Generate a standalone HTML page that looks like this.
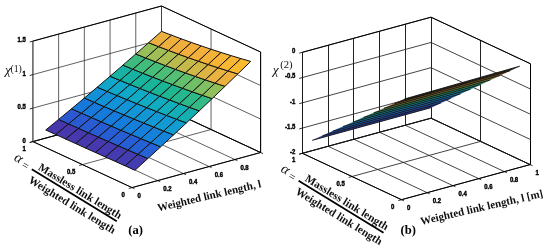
<!DOCTYPE html>
<html><head><meta charset="utf-8"><style>
html,body{margin:0;padding:0;background:#fff;width:550px;height:248px;overflow:hidden}
svg{display:block}
.tk{font-family:"Liberation Sans",sans-serif;font-weight:bold;font-size:6.8px;fill:#000;stroke:#000;stroke-width:0.42px}
.lb{font-family:"Liberation Serif",serif;font-weight:bold;font-size:11.2px;fill:#111}
.al{font-family:"Liberation Serif",serif;font-size:11.5px;fill:#111}
.al2{font-family:"Liberation Serif",serif;font-size:14.5px;font-style:italic;fill:#111}
.chi{font-family:"Liberation Serif",serif;font-size:13.5px;font-style:italic;fill:#111}
.sup{font-family:"Liberation Serif",serif;font-size:9.8px;fill:#111}
.cap{font-family:"Liberation Serif",serif;font-weight:bold;font-size:12.6px;fill:#000}
</style></head><body>
<svg width="550" height="248" viewBox="0 0 550 248">
<line x1="32.9" y1="141.6" x2="32.9" y2="41.1" stroke="#383838" stroke-width="0.8"/>
<line x1="58.62" y1="134.58" x2="58.62" y2="34.08" stroke="#383838" stroke-width="0.8"/>
<line x1="84.34" y1="127.56" x2="84.34" y2="27.06" stroke="#383838" stroke-width="0.8"/>
<line x1="110.06" y1="120.54" x2="110.06" y2="20.04" stroke="#383838" stroke-width="0.8"/>
<line x1="135.78" y1="113.52" x2="135.78" y2="13.02" stroke="#383838" stroke-width="0.8"/>
<line x1="161.5" y1="106.5" x2="161.5" y2="6" stroke="#383838" stroke-width="0.8"/>
<line x1="32.9" y1="141.6" x2="161.5" y2="106.5" stroke="#383838" stroke-width="0.8"/>
<line x1="32.9" y1="108.1" x2="161.5" y2="73" stroke="#383838" stroke-width="0.8"/>
<line x1="32.9" y1="74.6" x2="161.5" y2="39.5" stroke="#383838" stroke-width="0.8"/>
<line x1="32.9" y1="41.1" x2="161.5" y2="6" stroke="#383838" stroke-width="0.8"/>
<line x1="260.6" y1="152.5" x2="260.6" y2="52" stroke="#383838" stroke-width="0.8"/>
<line x1="211.05" y1="129.5" x2="211.05" y2="29" stroke="#383838" stroke-width="0.8"/>
<line x1="161.5" y1="106.5" x2="161.5" y2="6" stroke="#383838" stroke-width="0.8"/>
<line x1="260.6" y1="152.5" x2="161.5" y2="106.5" stroke="#383838" stroke-width="0.8"/>
<line x1="260.6" y1="119" x2="161.5" y2="73" stroke="#383838" stroke-width="0.8"/>
<line x1="260.6" y1="85.5" x2="161.5" y2="39.5" stroke="#383838" stroke-width="0.8"/>
<line x1="260.6" y1="52" x2="161.5" y2="6" stroke="#383838" stroke-width="0.8"/>
<line x1="132" y1="187.6" x2="32.9" y2="141.6" stroke="#383838" stroke-width="0.8"/>
<line x1="157.72" y1="180.58" x2="58.62" y2="134.58" stroke="#383838" stroke-width="0.8"/>
<line x1="183.44" y1="173.56" x2="84.34" y2="127.56" stroke="#383838" stroke-width="0.8"/>
<line x1="209.16" y1="166.54" x2="110.06" y2="120.54" stroke="#383838" stroke-width="0.8"/>
<line x1="234.88" y1="159.52" x2="135.78" y2="113.52" stroke="#383838" stroke-width="0.8"/>
<line x1="260.6" y1="152.5" x2="161.5" y2="106.5" stroke="#383838" stroke-width="0.8"/>
<line x1="132" y1="187.6" x2="260.6" y2="152.5" stroke="#383838" stroke-width="0.8"/>
<line x1="82.45" y1="164.6" x2="211.05" y2="129.5" stroke="#383838" stroke-width="0.8"/>
<line x1="32.9" y1="141.6" x2="161.5" y2="106.5" stroke="#383838" stroke-width="0.8"/>
<line x1="32.9" y1="141.6" x2="161.5" y2="106.5" stroke="#000" stroke-width="1.0"/>
<line x1="161.5" y1="106.5" x2="260.6" y2="152.5" stroke="#000" stroke-width="1.0"/>
<line x1="302.5" y1="153.3" x2="302.5" y2="52.3" stroke="#222" stroke-width="1.0"/>
<line x1="328.5" y1="146.28" x2="328.5" y2="45.28" stroke="#222" stroke-width="1.0"/>
<line x1="353.5" y1="139.26" x2="353.5" y2="38.26" stroke="#222" stroke-width="1.0"/>
<line x1="379.5" y1="132.24" x2="379.5" y2="31.24" stroke="#222" stroke-width="1.0"/>
<line x1="405.5" y1="125.22" x2="405.5" y2="24.22" stroke="#222" stroke-width="1.0"/>
<line x1="431.5" y1="118.2" x2="431.5" y2="17.2" stroke="#222" stroke-width="1.0"/>
<line x1="302.4" y1="153.3" x2="431" y2="118.2" stroke="#222" stroke-width="0.85"/>
<line x1="302.4" y1="128.05" x2="431" y2="92.95" stroke="#222" stroke-width="0.85"/>
<line x1="302.4" y1="102.8" x2="431" y2="67.7" stroke="#222" stroke-width="0.85"/>
<line x1="302.4" y1="77.55" x2="431" y2="42.45" stroke="#222" stroke-width="0.85"/>
<line x1="302.4" y1="52.3" x2="431" y2="17.2" stroke="#222" stroke-width="0.85"/>
<line x1="530.5" y1="164.6" x2="530.5" y2="63.6" stroke="#222" stroke-width="1.0"/>
<line x1="480.5" y1="141.4" x2="480.5" y2="40.4" stroke="#222" stroke-width="1.0"/>
<line x1="431.5" y1="118.2" x2="431.5" y2="17.2" stroke="#222" stroke-width="1.0"/>
<line x1="530.1" y1="164.6" x2="431" y2="118.2" stroke="#222" stroke-width="0.85"/>
<line x1="530.1" y1="139.35" x2="431" y2="92.95" stroke="#222" stroke-width="0.85"/>
<line x1="530.1" y1="114.1" x2="431" y2="67.7" stroke="#222" stroke-width="0.85"/>
<line x1="530.1" y1="88.85" x2="431" y2="42.45" stroke="#222" stroke-width="0.85"/>
<line x1="530.1" y1="63.6" x2="431" y2="17.2" stroke="#222" stroke-width="0.85"/>
<line x1="401.5" y1="199.7" x2="302.4" y2="153.3" stroke="#222" stroke-width="0.85"/>
<line x1="427.22" y1="192.68" x2="328.12" y2="146.28" stroke="#222" stroke-width="0.85"/>
<line x1="452.94" y1="185.66" x2="353.84" y2="139.26" stroke="#222" stroke-width="0.85"/>
<line x1="478.66" y1="178.64" x2="379.56" y2="132.24" stroke="#222" stroke-width="0.85"/>
<line x1="504.38" y1="171.62" x2="405.28" y2="125.22" stroke="#222" stroke-width="0.85"/>
<line x1="530.1" y1="164.6" x2="431" y2="118.2" stroke="#222" stroke-width="0.85"/>
<line x1="401.5" y1="199.7" x2="530.1" y2="164.6" stroke="#222" stroke-width="0.85"/>
<line x1="351.95" y1="176.5" x2="480.55" y2="141.4" stroke="#222" stroke-width="0.85"/>
<line x1="302.4" y1="153.3" x2="431" y2="118.2" stroke="#222" stroke-width="0.85"/>
<line x1="302.4" y1="153.3" x2="431" y2="118.2" stroke="#111" stroke-width="0.95"/>
<line x1="431" y1="118.2" x2="530.1" y2="164.6" stroke="#111" stroke-width="0.95"/>
<g stroke="#141010" stroke-width="1.0" stroke-linejoin="round"><polygon points="134.95,170.24 147.81,158.57 137.9,154.32 125.04,165.81" fill="#433cb2"/><polygon points="125.04,165.81 137.9,154.32 127.99,150.04 115.13,161.37" fill="#443cb1"/><polygon points="115.13,161.37 127.99,150.04 118.08,145.74 105.22,156.92" fill="#453bb0"/><polygon points="105.22,156.92 118.08,145.74 108.17,141.42 95.31,152.46" fill="#453aaf"/><polygon points="95.31,152.46 108.17,141.42 98.26,137.07 85.4,147.99" fill="#4639af"/><polygon points="85.4,147.99 98.26,137.07 88.35,132.7 75.49,143.5" fill="#4639ae"/><polygon points="75.49,143.5 88.35,132.7 78.44,128.3 65.58,139" fill="#4738ad"/><polygon points="65.58,139 78.44,128.3 68.53,123.88 55.67,134.49" fill="#4738ad"/><polygon points="55.67,134.49 68.53,123.88 58.62,119.44 45.76,129.97" fill="#4837ac"/><polygon points="147.81,158.57 160.67,146.8 150.76,142.72 137.9,154.32" fill="#2462d5"/><polygon points="137.9,154.32 150.76,142.72 140.85,138.61 127.99,150.04" fill="#2561d5"/><polygon points="127.99,150.04 140.85,138.61 130.94,134.46 118.08,145.74" fill="#265fd5"/><polygon points="118.08,145.74 130.94,134.46 121.03,130.27 108.17,141.42" fill="#275ed4"/><polygon points="108.17,141.42 121.03,130.27 111.12,126.05 98.26,137.07" fill="#275dd4"/><polygon points="98.26,137.07 111.12,126.05 101.21,121.79 88.35,132.7" fill="#285cd4"/><polygon points="88.35,132.7 101.21,121.79 91.3,117.49 78.44,128.3" fill="#295bd3"/><polygon points="78.44,128.3 91.3,117.49 81.39,113.16 68.53,123.88" fill="#2a5ad2"/><polygon points="68.53,123.88 81.39,113.16 71.48,108.8 58.62,119.44" fill="#2b59d1"/><polygon points="160.67,146.8 173.53,134.92 163.62,131.02 150.76,142.72" fill="#1483db"/><polygon points="150.76,142.72 163.62,131.02 153.71,127.06 140.85,138.61" fill="#1481db"/><polygon points="140.85,138.61 153.71,127.06 143.8,123.06 130.94,134.46" fill="#1480db"/><polygon points="130.94,134.46 143.8,123.06 133.89,119.01 121.03,130.27" fill="#147edc"/><polygon points="121.03,130.27 133.89,119.01 123.98,114.92 111.12,126.05" fill="#147ddc"/><polygon points="111.12,126.05 123.98,114.92 114.07,110.77 101.21,121.79" fill="#157bdc"/><polygon points="101.21,121.79 114.07,110.77 104.16,106.58 91.3,117.49" fill="#167adb"/><polygon points="91.3,117.49 104.16,106.58 94.25,102.34 81.39,113.16" fill="#1779db"/><polygon points="81.39,113.16 94.25,102.34 84.34,98.05 71.48,108.8" fill="#1778db"/><polygon points="173.53,134.92 186.39,122.94 176.48,119.21 163.62,131.02" fill="#119dd0"/><polygon points="163.62,131.02 176.48,119.21 166.57,115.41 153.71,127.06" fill="#119bd2"/><polygon points="153.71,127.06 166.57,115.41 156.66,111.56 143.8,123.06" fill="#1299d4"/><polygon points="143.8,123.06 156.66,111.56 146.75,107.65 133.89,119.01" fill="#1297d5"/><polygon points="133.89,119.01 146.75,107.65 136.84,103.68 123.98,114.92" fill="#1296d6"/><polygon points="123.98,114.92 136.84,103.68 126.93,99.65 114.07,110.77" fill="#1294d6"/><polygon points="114.07,110.77 126.93,99.65 117.02,95.56 104.16,106.58" fill="#1293d7"/><polygon points="104.16,106.58 117.02,95.56 107.11,91.41 94.25,102.34" fill="#1291d7"/><polygon points="94.25,102.34 107.11,91.41 97.2,87.2 84.34,98.05" fill="#1290d7"/><polygon points="186.39,122.94 199.25,110.85 189.34,107.29 176.48,119.21" fill="#13b0b2"/><polygon points="176.48,119.21 189.34,107.29 179.43,103.66 166.57,115.41" fill="#12afb7"/><polygon points="166.57,115.41 179.43,103.66 169.52,99.95 156.66,111.56" fill="#11aebc"/><polygon points="156.66,111.56 169.52,99.95 159.61,96.18 146.75,107.65" fill="#10adc0"/><polygon points="146.75,107.65 159.61,96.18 149.7,92.33 136.84,103.68" fill="#0facc4"/><polygon points="136.84,103.68 149.7,92.33 139.79,88.42 126.93,99.65" fill="#0faac6"/><polygon points="126.93,99.65 139.79,88.42 129.88,84.43 117.02,95.56" fill="#0fa8c7"/><polygon points="117.02,95.56 129.88,84.43 119.97,80.37 107.11,91.41" fill="#10a7c8"/><polygon points="107.11,91.41 119.97,80.37 110.06,76.24 97.2,87.2" fill="#10a6c9"/><polygon points="199.25,110.85 212.11,98.65 202.2,95.26 189.34,107.29" fill="#34ba85"/><polygon points="189.34,107.29 202.2,95.26 192.29,91.79 179.43,103.66" fill="#2cb98a"/><polygon points="179.43,103.66 192.29,91.79 182.38,88.24 169.52,99.95" fill="#25b88e"/><polygon points="169.52,99.95 182.38,88.24 172.47,84.6 159.61,96.18" fill="#1fb792"/><polygon points="159.61,96.18 172.47,84.6 162.56,80.88 149.7,92.33" fill="#19b696"/><polygon points="149.7,92.33 162.56,80.88 152.65,77.08 139.79,88.42" fill="#18b59a"/><polygon points="139.79,88.42 152.65,77.08 142.74,73.19 129.88,84.43" fill="#17b49e"/><polygon points="129.88,84.43 142.74,73.19 132.83,69.22 119.97,80.37" fill="#16b3a2"/><polygon points="119.97,80.37 132.83,69.22 122.92,65.17 110.06,76.24" fill="#16b3a5"/><polygon points="212.11,98.65 224.97,86.34 215.06,83.13 202.2,95.26" fill="#91bf5b"/><polygon points="202.2,95.26 215.06,83.13 205.15,79.82 192.29,91.79" fill="#80c062"/><polygon points="192.29,91.79 205.15,79.82 195.24,76.42 182.38,88.24" fill="#70bf67"/><polygon points="182.38,88.24 195.24,76.42 185.33,72.92 172.47,84.6" fill="#61bf6d"/><polygon points="172.47,84.6 185.33,72.92 175.42,69.32 162.56,80.88" fill="#54be72"/><polygon points="162.56,80.88 175.42,69.32 165.51,65.64 152.65,77.08" fill="#4cbd76"/><polygon points="152.65,77.08 165.51,65.64 155.6,61.85 142.74,73.19" fill="#46bd79"/><polygon points="142.74,73.19 155.6,61.85 145.69,57.97 132.83,69.22" fill="#41bc7c"/><polygon points="132.83,69.22 145.69,57.97 135.78,54 122.92,65.17" fill="#3dbb7f"/><polygon points="224.97,86.34 237.83,73.92 227.92,70.89 215.06,83.13" fill="#edb03f"/><polygon points="215.06,83.13 227.92,70.89 218.01,67.74 205.15,79.82" fill="#e9b241"/><polygon points="205.15,79.82 218.01,67.74 208.1,64.49 195.24,76.42" fill="#ddb544"/><polygon points="195.24,76.42 208.1,64.49 198.19,61.13 185.33,72.92" fill="#d0b847"/><polygon points="185.33,72.92 198.19,61.13 188.28,57.66 175.42,69.32" fill="#c5ba49"/><polygon points="175.42,69.32 188.28,57.66 178.37,54.08 165.51,65.64" fill="#b9bc4d"/><polygon points="165.51,65.64 178.37,54.08 168.46,50.4 155.6,61.85" fill="#acbd52"/><polygon points="155.6,61.85 168.46,50.4 158.55,46.61 145.69,57.97" fill="#a0be56"/><polygon points="145.69,57.97 158.55,46.61 148.64,42.72 135.78,54" fill="#96bf59"/><polygon points="237.83,73.92 250.69,61.4 240.78,58.54 227.92,70.89" fill="#f9ba2f"/><polygon points="227.92,70.89 240.78,58.54 230.87,55.55 218.01,67.74" fill="#f8b732"/><polygon points="218.01,67.74 230.87,55.55 220.96,52.45 208.1,64.49" fill="#f6b535"/><polygon points="208.1,64.49 220.96,52.45 211.05,49.23 198.19,61.13" fill="#f5b238"/><polygon points="198.19,61.13 211.05,49.23 201.14,45.88 188.28,57.66" fill="#f4b03a"/><polygon points="188.28,57.66 201.14,45.88 191.23,42.42 178.37,54.08" fill="#f3ae3c"/><polygon points="178.37,54.08 191.23,42.42 181.32,38.84 168.46,50.4" fill="#f0af3d"/><polygon points="168.46,50.4 181.32,38.84 171.41,35.14 158.55,46.61" fill="#edb03f"/><polygon points="158.55,46.61 171.41,35.14 161.5,31.33 148.64,42.72" fill="#ebb140"/></g>
<g stroke="none"><polygon points="404.5,99 519.8,66.2 509.92,70.81 394.26,103.59" fill="#322819"/><polygon points="394.26,103.59 509.92,70.81 500.04,75.42 384.01,108.18" fill="#a06928"/><polygon points="384.01,108.18 500.04,75.42 490.17,80.03 373.77,112.77" fill="#91a037"/><polygon points="373.77,112.77 490.17,80.03 480.29,84.64 363.52,117.36" fill="#32b478"/><polygon points="363.52,117.36 480.29,84.64 470.41,89.26 353.28,121.94" fill="#0fafb4"/><polygon points="353.28,121.94 470.41,89.26 460.53,93.87 343.03,126.53" fill="#14a0e1"/><polygon points="343.03,126.53 460.53,93.87 450.66,98.48 332.79,131.12" fill="#1e82f0"/><polygon points="332.79,131.12 450.66,98.48 440.78,103.09 322.54,135.71" fill="#2864e6"/><polygon points="322.54,135.71 440.78,103.09 430.9,107.7 312.3,140.3" fill="#3246be"/></g>
<path d="M404.5 99L519.8 66.2M394.26 103.59L509.92 70.81M384.01 108.18L500.04 75.42M373.77 112.77L490.17 80.03M363.52 117.36L480.29 84.64M353.28 121.94L470.41 89.26M343.03 126.53L460.53 93.87M332.79 131.12L450.66 98.48M322.54 135.71L440.78 103.09M312.3 140.3L430.9 107.7" stroke="#111" stroke-width="0.9" fill="none" shape-rendering="auto"/>
<path d="M404.5 99L312.3 140.3M407.7 98.09L315.59 139.39M410.91 97.18L318.89 138.49M414.11 96.27L322.18 137.58M417.31 95.36L325.48 136.68M420.51 94.44L328.77 135.77M423.72 93.53L332.07 134.87M426.92 92.62L335.36 133.96M430.12 91.71L338.66 133.06M433.32 90.8L341.95 132.15M436.53 89.89L345.24 131.24M439.73 88.98L348.54 130.34M442.93 88.07L351.83 129.43M446.14 87.16L355.13 128.53M449.34 86.24L358.42 127.62M452.54 85.33L361.72 126.72M455.74 84.42L365.01 125.81M458.95 83.51L368.31 124.91M462.15 82.6L371.6 124M465.35 81.69L374.89 123.09M468.56 80.78L378.19 122.19M471.76 79.87L381.48 121.28M474.96 78.96L384.78 120.38M478.16 78.04L388.07 119.47M481.37 77.13L391.37 118.57M484.57 76.22L394.66 117.66M487.77 75.31L397.96 116.76M490.97 74.4L401.25 115.85M494.18 73.49L404.54 114.94M497.38 72.58L407.84 114.04M500.58 71.67L411.13 113.13M503.79 70.76L414.43 112.23M506.99 69.84L417.72 111.32M510.19 68.93L421.02 110.42M513.39 68.02L424.31 109.51M516.6 67.11L427.61 108.61M519.8 66.2L430.9 107.7" stroke="#111" stroke-width="0.2" fill="none"/>
<line x1="32.9" y1="41.1" x2="161.5" y2="6" stroke="#000" stroke-width="1.0"/>
<line x1="161.5" y1="6" x2="260.6" y2="52" stroke="#000" stroke-width="1.0"/>
<line x1="260.6" y1="152.5" x2="260.6" y2="52" stroke="#000" stroke-width="1.0"/>
<line x1="132" y1="187.6" x2="260.6" y2="152.5" stroke="#000" stroke-width="1.0"/>
<line x1="132" y1="187.6" x2="32.9" y2="141.6" stroke="#000" stroke-width="1.0"/>
<line x1="32.9" y1="141.6" x2="32.9" y2="41.1" stroke="#555" stroke-width="1.0"/>
<line x1="132" y1="187.6" x2="134.48" y2="188.75" stroke="#000" stroke-width="0.8"/>
<line x1="157.72" y1="180.58" x2="160.2" y2="181.73" stroke="#000" stroke-width="0.8"/>
<line x1="183.44" y1="173.56" x2="185.92" y2="174.71" stroke="#000" stroke-width="0.8"/>
<line x1="209.16" y1="166.54" x2="211.64" y2="167.69" stroke="#000" stroke-width="0.8"/>
<line x1="234.88" y1="159.52" x2="237.36" y2="160.67" stroke="#000" stroke-width="0.8"/>
<line x1="260.6" y1="152.5" x2="263.08" y2="153.65" stroke="#000" stroke-width="0.8"/>
<line x1="132" y1="187.6" x2="128.78" y2="188.48" stroke="#000" stroke-width="0.8"/>
<line x1="82.45" y1="164.6" x2="79.23" y2="165.48" stroke="#000" stroke-width="0.8"/>
<line x1="32.9" y1="141.6" x2="29.69" y2="142.48" stroke="#000" stroke-width="0.8"/>
<line x1="32.9" y1="141.6" x2="29.69" y2="142.48" stroke="#000" stroke-width="0.8"/>
<line x1="32.9" y1="108.1" x2="29.69" y2="108.98" stroke="#000" stroke-width="0.8"/>
<line x1="32.9" y1="74.6" x2="29.69" y2="75.48" stroke="#000" stroke-width="0.8"/>
<line x1="32.9" y1="41.1" x2="29.69" y2="41.98" stroke="#000" stroke-width="0.8"/>
<line x1="302.4" y1="52.3" x2="431" y2="17.2" stroke="#000" stroke-width="1.0"/>
<line x1="431" y1="17.2" x2="530.1" y2="63.6" stroke="#000" stroke-width="1.0"/>
<line x1="530.5" y1="164.6" x2="530.5" y2="63.6" stroke="#000" stroke-width="1.0"/>
<line x1="401.5" y1="199.7" x2="530.1" y2="164.6" stroke="#000" stroke-width="1.0"/>
<line x1="401.5" y1="199.7" x2="302.4" y2="153.3" stroke="#000" stroke-width="1.0"/>
<line x1="302.5" y1="153.3" x2="302.5" y2="52.3" stroke="#1a1a1a" stroke-width="1.0"/>
<line x1="401.5" y1="199.7" x2="403.98" y2="200.86" stroke="#000" stroke-width="0.8"/>
<line x1="427.22" y1="192.68" x2="429.7" y2="193.84" stroke="#000" stroke-width="0.8"/>
<line x1="452.94" y1="185.66" x2="455.42" y2="186.82" stroke="#000" stroke-width="0.8"/>
<line x1="478.66" y1="178.64" x2="481.14" y2="179.8" stroke="#000" stroke-width="0.8"/>
<line x1="504.38" y1="171.62" x2="506.86" y2="172.78" stroke="#000" stroke-width="0.8"/>
<line x1="530.1" y1="164.6" x2="532.58" y2="165.76" stroke="#000" stroke-width="0.8"/>
<line x1="401.5" y1="199.7" x2="398.29" y2="200.58" stroke="#000" stroke-width="0.8"/>
<line x1="351.95" y1="176.5" x2="348.74" y2="177.38" stroke="#000" stroke-width="0.8"/>
<line x1="302.4" y1="153.3" x2="299.19" y2="154.18" stroke="#000" stroke-width="0.8"/>
<line x1="302.4" y1="153.3" x2="299.19" y2="154.18" stroke="#000" stroke-width="0.8"/>
<line x1="302.4" y1="128.05" x2="299.19" y2="128.93" stroke="#000" stroke-width="0.8"/>
<line x1="302.4" y1="102.8" x2="299.19" y2="103.68" stroke="#000" stroke-width="0.8"/>
<line x1="302.4" y1="77.55" x2="299.19" y2="78.43" stroke="#000" stroke-width="0.8"/>
<line x1="302.4" y1="52.3" x2="299.19" y2="53.18" stroke="#000" stroke-width="0.8"/>
<text transform="translate(25.9 142.5) scale(0.88 1)" class="tk" text-anchor="end">0</text>
<text transform="translate(25.9 109) scale(0.88 1)" class="tk" text-anchor="end">0.5</text>
<text transform="translate(25.9 75.5) scale(0.88 1)" class="tk" text-anchor="end">1</text>
<text transform="translate(25.9 42) scale(0.88 1)" class="tk" text-anchor="end">1.5</text>
<text transform="translate(25.8 150.7) scale(0.88 1)" class="tk" text-anchor="end">1</text>
<text transform="translate(75.35 173.7) scale(0.88 1)" class="tk" text-anchor="end">0.5</text>
<text transform="translate(124.9 196.7) scale(0.88 1)" class="tk" text-anchor="end">0</text>
<text transform="translate(137.5 198.1) scale(0.88 1)" class="tk" text-anchor="start">0</text>
<text transform="translate(163.22 191.08) scale(0.88 1)" class="tk" text-anchor="start">0.2</text>
<text transform="translate(188.94 184.06) scale(0.88 1)" class="tk" text-anchor="start">0.4</text>
<text transform="translate(214.66 177.04) scale(0.88 1)" class="tk" text-anchor="start">0.6</text>
<text transform="translate(240.38 170.02) scale(0.88 1)" class="tk" text-anchor="start">0.8</text>
<text transform="translate(295.4 154.2) scale(0.88 1)" class="tk" text-anchor="end">-2</text>
<text transform="translate(295.4 128.95) scale(0.88 1)" class="tk" text-anchor="end">-1.5</text>
<text transform="translate(295.4 103.7) scale(0.88 1)" class="tk" text-anchor="end">-1</text>
<text transform="translate(295.4 78.45) scale(0.88 1)" class="tk" text-anchor="end">-0.5</text>
<text transform="translate(295.4 53.2) scale(0.88 1)" class="tk" text-anchor="end">0</text>
<text transform="translate(295.3 162.4) scale(0.88 1)" class="tk" text-anchor="end">1</text>
<text transform="translate(344.85 185.6) scale(0.88 1)" class="tk" text-anchor="end">0.5</text>
<text transform="translate(394.4 208.8) scale(0.88 1)" class="tk" text-anchor="end">0</text>
<text transform="translate(407 210.2) scale(0.88 1)" class="tk" text-anchor="start">0</text>
<text transform="translate(432.72 203.18) scale(0.88 1)" class="tk" text-anchor="start">0.2</text>
<text transform="translate(458.44 196.16) scale(0.88 1)" class="tk" text-anchor="start">0.4</text>
<text transform="translate(484.16 189.14) scale(0.88 1)" class="tk" text-anchor="start">0.6</text>
<text transform="translate(509.88 182.12) scale(0.88 1)" class="tk" text-anchor="start">0.8</text>
<text transform="translate(535.6 175.1) scale(0.88 1)" class="tk" text-anchor="start">1</text>
<text x="5" y="73.6" class="chi">χ</text><text x="10.4" y="71.6" class="sup">(1)</text>
<text x="272.8" y="73.6" class="chi">χ</text><text x="280.2" y="67.9" class="sup" style="font-size:10.6px">(2)</text>
<g transform="translate(31.8 169.3) rotate(31.46)">
<line x1="0" y1="0" x2="99.6" y2="0" stroke="#000" stroke-width="1.8"/>
<text x="52.6" y="-3.0" class="lb" text-anchor="middle">Massless link length</text>
<text x="53" y="12.9" class="lb" text-anchor="middle">Weighted link length</text>
<text x="-4.2" y="3.7" class="al" text-anchor="end">=</text>
<text x="-17" y="1.4" class="al2" text-anchor="middle">α</text>
</g>
<g transform="translate(298.6 180.7) rotate(31.46)">
<line x1="0" y1="0" x2="99.6" y2="0" stroke="#000" stroke-width="1.8"/>
<text x="52.6" y="-3.0" class="lb" text-anchor="middle">Massless link length</text>
<text x="53" y="12.9" class="lb" text-anchor="middle">Weighted link length</text>
<text x="-4.2" y="3.7" class="al" text-anchor="end">=</text>
<text x="-17" y="1.4" class="al2" text-anchor="middle">α</text>
</g>
<text x="158.3" y="211.4" class="lb" style="font-size:11px" transform="rotate(-13.3 158.3 211.4)">Weighted link length, l</text>
<text x="421.3" y="224.9" class="lb" style="font-size:11px" transform="rotate(-13 421.3 224.9)">Weighted link length, l [m]</text>
<text x="128.3" y="234.4" class="cap">(a)</text>
<text x="400.6" y="234.4" class="cap">(b)</text>
</svg>
</body></html>
